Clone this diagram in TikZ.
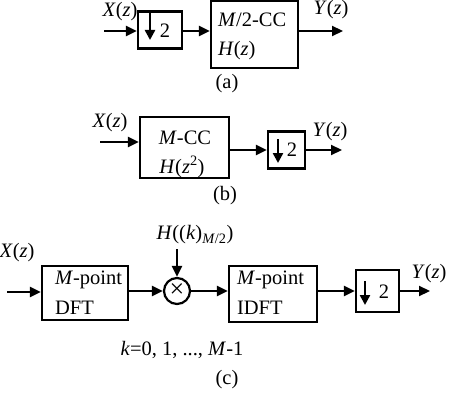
\documentclass[tikz,border=0pt]{standalone}
\usepackage{fontspec}
\setmainfont{Liberation Serif}
\usetikzlibrary{arrows.meta}
\begin{document}
\begin{tikzpicture}[x=1pt,y=-1pt, line width=2.2pt,
  sig/.style={-{Triangle[length=11pt,width=10pt]}},
  dn/.style={-{Triangle[length=10pt,width=10pt]}, line width=2.4pt},
  blk/.style={draw, rectangle, inner sep=0pt},
  txt/.style={inner sep=0pt, font=\fontsize{20.5}{24}\selectfont}]
\useasboundingbox (0,0) rectangle (474,420);
% ---------- (a)
\coordinate (inA) at (104,31);
\node[blk, minimum width=44, minimum height=37] (dsA) at (160,30) {};
\node[blk, minimum width=87, minimum height=67] (ccA) at (254.5,34.5) {};
\coordinate (outA) at (343,31);
\draw[sig] (inA) -- (dsA.west |- inA);
\draw[sig] (dsA.east |- inA) -- (ccA.west |- inA);
\draw[sig] (ccA.east |- outA) -- (outA);
\draw[dn] (150,13) -- (150,40);
\node[txt] (twoA) at (165,31) {2};
\node[txt, anchor=west] (tA1) at (217,20) {\textit{M}/2-CC};
\node[txt, anchor=west] (tA2) at (217,51) {\textit{H}(\textit{z})};
\node[txt] (xA) at (120,12) {\textit{X}(\textit{z})};
\node[txt] (yA) at (331,10) {\textit{Y}(\textit{z})};
\node[txt] (la) at (227,84) {(a)};
% ---------- (b)
\coordinate (inB) at (100,142);
\node[blk, minimum width=89, minimum height=61] (ccB) at (184.5,147.5) {};
\node[blk, minimum width=37, minimum height=37] (dsB) at (286.5,150) {};
\coordinate (outB) at (342,150);
\draw[sig] (inB) -- (ccB.west |- inB);
\draw[sig] (ccB.east |- dsB.west) -- (dsB.west);
\draw[sig] (dsB.east) -- (outB);
\draw[dn] (278,139) -- (278,163);
\node[txt] (twoB) at (292,150) {2};
\node[txt] (tB1) at (185,138) {\textit{M}-CC};
\node[txt] (tB2) at (182,167) {\textit{H}(\textit{z}\textsuperscript{2})};
\node[txt] (xB) at (110,123) {\textit{X}(\textit{z})};
\node[txt] (yB) at (330,132) {\textit{Y}(\textit{z})};
\node[txt] (lb) at (225,196) {(b)};
% ---------- (c)
\coordinate (inC) at (7,292);
\node[blk, minimum width=86, minimum height=54] (dft) at (85,293) {};
\node[draw, circle, minimum size=26, inner sep=0pt, font=\fontsize{26}{28}\selectfont] (mul) at (177,291) {×};
\coordinate (hin) at (177,249);
\node[blk, minimum width=88, minimum height=56] (idft) at (273,294) {};
\node[blk, minimum width=43, minimum height=42] (dsC) at (377.5,291) {};
\coordinate (outC) at (430,291);
\draw[sig] (inC) -- (dft.west |- inC);
\draw[sig] (dft.east |- mul) -- (mul.west);
\draw[sig] (hin) -- (mul.north);
\draw[sig] (mul.east) -- (idft.west |- mul);
\draw[sig] (idft.east |- dsC) -- (dsC.west);
\draw[sig] (dsC.east) -- (outC);
\draw[dn] (365,281) -- (365,305);
\node[txt] (twoC) at (384,292) {2};
\node[txt, anchor=west] (tC1) at (54,280) {\textit{M}-point};
\node[txt, anchor=west] (tC2) at (54,308) {DFT};
\node[txt, anchor=west] (tC3) at (236,280) {\textit{M}-point};
\node[txt, anchor=west] (tC4) at (236,308) {IDFT};
\node[txt] (hl) at (195,235) {\textit{H}((\textit{k})\textsubscript{\textit{M}/2})};
\node[txt] (xC) at (17,253) {\textit{X}(\textit{z})};
\node[txt] (yC) at (429,274) {\textit{Y}(\textit{z})};
\node[txt] (kl) at (182,350) {\textit{k}=0, 1, ..., \textit{M}-1};
\node[txt] (lc) at (227,380) {(c)};
\end{tikzpicture}
\end{document}
